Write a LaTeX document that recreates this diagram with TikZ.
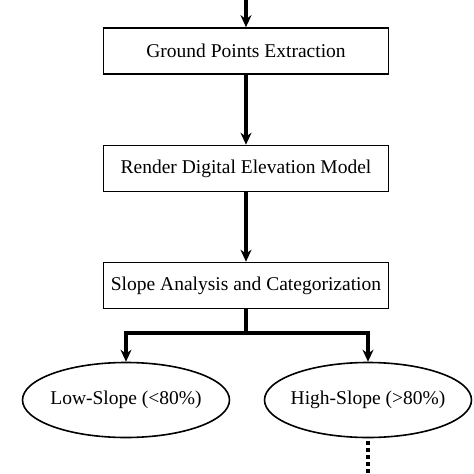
\documentclass[tikz,border=0pt]{standalone}
\usepackage{fontspec}
\setmainfont{Liberation Serif}
\usetikzlibrary{arrows.meta,shapes.geometric}
\begin{document}
\begin{tikzpicture}[x=1pt,y=-1pt,line width=1.6pt,>={Stealth[length=12pt,width=11pt]},
  box/.style={draw,line width=1.6pt,minimum width=285pt,minimum height=46pt,font=\fontsize{19.5}{22}\selectfont},
  oval/.style={draw,ellipse,line width=1.6pt,inner xsep=-10pt,minimum width=207pt,minimum height=75pt,font=\fontsize{19.5}{22}\selectfont},
  flow/.style={->,line width=3.2pt}]
\useasboundingbox (0,0) rectangle (474,474);
\node[box] (ground) at (246,51) {Ground Points Extraction};
\node[box] (dem) at (246,168.5) {Render Digital Elevation Model};
\node[box] (slope) at (246,285.5) {Slope Analysis and Categorization};
\node[oval] (low) at (126,400) {Low-Slope (<80\%)};
\node[oval] (high) at (368,400) {High-Slope (>80\%)};
\coordinate (in) at (246,0);
\coordinate (split) at (246,333);
\coordinate (more) at (368,474);
\draw[flow] (in) -- (ground);
\draw[flow] (ground) -- (dem);
\draw[flow] (dem) -- (slope);
\draw[flow] (slope.south) -- (split) -| (low.north);
\draw[flow] (split) -| (high.north);
\draw[line width=3.5pt,dash pattern=on 4pt off 3pt] (high.south) ++(0,3) -- (more);
\end{tikzpicture}
\end{document}
